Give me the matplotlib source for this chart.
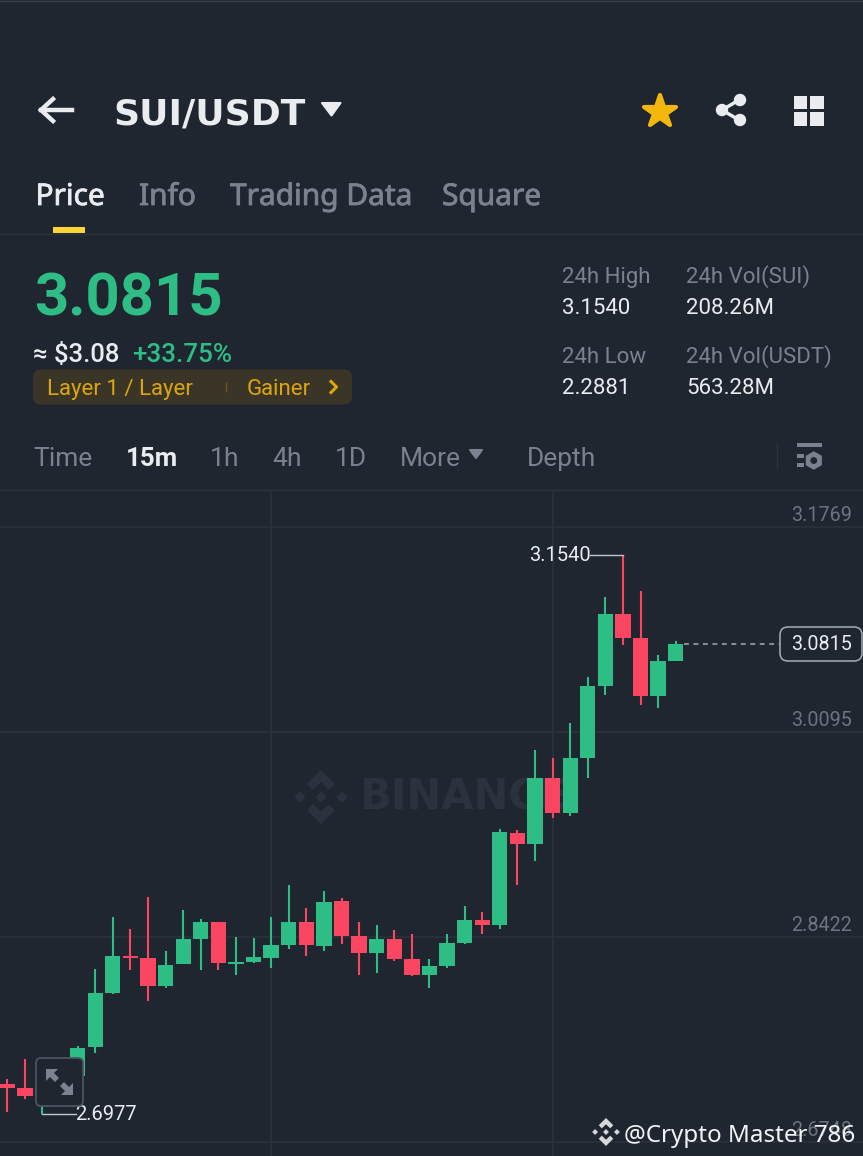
import matplotlib
matplotlib.use("Agg")
import matplotlib.pyplot as plt
import matplotlib.patheffects as pe
from matplotlib.markers import MarkerStyle
from matplotlib.patches import FancyBboxPatch, Polygon, Circle, Rectangle, RegularPolygon

opens = [2.7220, 2.7187, 2.7124, 2.7173, 2.7290, 2.7522, 2.7967, 2.8264, 2.8248, 2.8024,
         2.8204, 2.8403, 2.8547, 2.8202, 2.8220, 2.8251, 2.8359, 2.8547, 2.8351, 2.8713,
         2.8428, 2.8289, 2.8406, 2.8245, 2.8112, 2.8185, 2.8376, 2.8563, 2.8522, 2.9271,
         2.9184, 2.9718, 2.9437, 2.9886, 3.0473, 3.1061, 3.0863, 3.0389, 3.0675]
closes = [2.7187, 2.7124, 2.7173, 2.7290, 2.7518, 2.7967, 2.8264, 2.8248, 2.8024, 2.8193,
          2.8403, 2.8547, 2.8207, 2.8218, 2.8256, 2.8357, 2.8547, 2.8354, 2.8705, 2.8428,
          2.8289, 2.8403, 2.8245, 2.8112, 2.8183, 2.8371, 2.8561, 2.8522, 2.9277, 2.9184,
          2.9718, 2.9437, 2.9886, 3.0473, 3.1061, 3.0863, 3.0389, 3.0675, 3.0815]
highs = [2.7260, 2.7424, 2.7214, 2.7340, 2.7535, 2.8158, 2.8583, 2.8485, 2.8751, 2.8305,
         2.8640, 2.8571, 2.8547, 2.8420, 2.8414, 2.8588, 2.8844, 2.8656, 2.8798, 2.8738,
         2.8542, 2.8520, 2.8482, 2.8449, 2.8242, 2.8449, 2.8678, 2.8624, 2.9301, 2.9296,
         2.9946, 2.9881, 3.0171, 3.0545, 3.1195, 3.1540, 3.1244, 3.0724, 3.0836]
lows = [2.6996, 2.7102, 2.6977, 2.7150, 2.7290, 2.7478, 2.7954, 2.8153, 2.7902, 2.8008,
        2.8204, 2.8150, 2.8150, 2.8114, 2.8212, 2.8169, 2.8327, 2.8264, 2.8310, 2.8367,
        2.8112, 2.8126, 2.8229, 2.8101, 2.8003, 2.8169, 2.8365, 2.8447, 2.8485, 2.8847,
        2.9045, 2.9393, 2.9410, 2.9720, 3.0400, 3.0806, 3.0318, 3.0291, 3.0675]

price_ticks = [3.1769, 3.0095, 2.8422, 2.6748]
price_labels = ["3.1769", "3.0095", "2.8422", "2.6748"]
time_grid = [15, 31]
last_price = 3.0815
high_price = 3.1540
low_price = 2.6977

tabs = ["Price", "Info", "Trading Data", "Square"]
intervals = ["Time", "15m", "1h", "4h", "1D", "More", "Depth"]

BG = "#1f2630"
GRID = "#2b323d"
GREEN = "#2ebd85"
RED = "#fb4661"
WHITE = "#eaecef"
GREY = "#7a8290"
WM = "#2b323d"

plt.rcParams["font.family"] = ["Roboto", "DejaVu Sans"]

W, H = 863, 1156
fig = plt.figure(figsize=(W / 100, H / 100), dpi=100, facecolor=BG)

# chart part, y 490..1156 of the picture
ax = fig.add_axes([0, 0, 1, (H - 490) / H], facecolor=BG, zorder=1)
pitch = 17.59
px_per_unit = 1225
ax.set_xlim(-7.3 / pitch, (W - 7.3) / pitch)
ax.set_ylim(3.1769 - (1156 - 527) / px_per_unit, 3.1769 + (527 - 490) / px_per_unit)
for s in ax.spines.values():
    s.set_visible(False)
ax.set_xticks(time_grid)
ax.set_yticks(price_ticks)
ax.tick_params(length=0, labelbottom=False, labelleft=False)
ax.grid(True, color=GRID, lw=1.1, zorder=0)
ax.set_axisbelow(True)

# everything else in picture pixels
ui = fig.add_axes([0, 0, 1, 1], zorder=2)
ui.set_xlim(0, W)
ui.set_ylim(H, 0)
ui.axis("off")
ui.patch.set_alpha(0)


def text(x, y, s, size, color=WHITE, weight="normal", ha="left", va="baseline", family=None):
    kw = {"family": family} if family else {}
    return ui.text(x, y, s, fontsize=size, color=color, fontweight=weight, ha=ha, va=va, **kw)


def logo(target, cx, cy, r, color, zorder=1):
    chevron = [(0, -1), (.52, -.48), (.3, -.26), (0, -.55), (-.3, -.26), (-.52, -.48)]
    small = [(0, -.21), (.21, 0), (0, .21), (-.21, 0)]
    shapes = []
    for sign in (1, -1):
        shapes.append([(cx + a * r, cy + sign * b * r) for a, b in chevron])
        shapes.append([(cx + sign * .78 * r + a * r, cy + b * r) for a, b in small])
    shapes.append([(cx + a * r, cy + b * r) for a, b in small])
    for pts in shapes:
        target.add_patch(Polygon(pts, fc=color, ec="none", zorder=zorder, transform=ui.transData))


# BINANCE watermark stays under the candles
logo(ax, 321, 797, 27, WM, zorder=1)
ax.text(359, 797, "BINANCE", transform=ui.transData, fontsize=30, fontweight="bold", color=WM,
        family="DejaVu Sans", ha="left", va="center", zorder=1)

for i in range(len(opens)):
    c = GREEN if closes[i] >= opens[i] else RED
    ax.vlines(i, lows[i], highs[i], color=c, lw=1.5, zorder=3)
    ax.bar(i, abs(closes[i] - opens[i]), bottom=min(opens[i], closes[i]), width=0.87,
           color=c, linewidth=0, zorder=3)

tr = ax.get_yaxis_transform()
for p, lab in zip(price_ticks, price_labels):
    ax.text(0.9875, p + 11.5 / px_per_unit, lab, transform=tr, ha="right", va="center",
            fontsize=14.2, color="#6d7481", zorder=2)

# high / low markers
ax.plot([35, 35 - 1.85], [high_price, high_price], color="#c4c7cc", lw=1, zorder=4)
ax.text(35 - 1.85, high_price, "3.1540", ha="right", va="center", fontsize=14.5, color=WHITE, zorder=4)
ax.plot([2, 2 + 1.9], [low_price, low_price], color="#c4c7cc", lw=1, zorder=4)
ax.text(2 + 1.85, low_price, "2.6977", ha="left", va="center", fontsize=14.5, color=WHITE, zorder=4)
ax.plot([38.45, 43.9], [last_price, last_price], color="#a9adb3", lw=1.1, ls=(0, (3.2, 3)), zorder=4)

# page lines
ui.plot([0, W], [0.5, 0.5], color="#3a414c", lw=1)
ui.plot([0, W], [234, 234], color=GRID, lw=1)
ui.plot([0, W], [490, 490], color=GRID, lw=1)

# header
ui.plot([41, 72], [110, 110], color=WHITE, lw=3.2)
ui.plot([53, 41, 53], [99, 110, 121], color=WHITE, lw=3.2, solid_joinstyle="miter")
text(113, 125, "SUI/USDT", 26, weight="bold", family="DejaVu Sans")
ui.add_patch(Polygon([(322, 103), (340.5, 103), (331.5, 115.5)], fc=WHITE, ec=WHITE, lw=1.5, joinstyle="round"))
ui.plot([660], [111.5], marker=MarkerStyle("*", joinstyle="round"), ms=24, color="#f3b70b", mec="#f3b70b", mew=3)
for b in [(739, 100), (739, 120)]:
    ui.plot([722, b[0]], [110, b[1]], color=WHITE, lw=2.5)
for c in [(722, 110), (740, 100), (740, 120)]:
    ui.add_patch(Circle(c, 6.2, fc=WHITE, ec="none"))
for x0 in (793.5, 810):
    for y0 in (95.5, 112):
        ui.add_patch(Rectangle((x0, y0), 13.5, 13.5, fc=WHITE, ec="none"))

# tabs, Noto Sans only has the regular weight here so thicken it a bit
for lab, x, c in zip(tabs, [35.5, 139, 230, 442], [WHITE, GREY, GREY, GREY]):
    t = text(x, 205, lab, 21.5, c, family="Noto Sans")
    t.set_path_effects([pe.withStroke(linewidth=0.6, foreground=c)])
ui.add_patch(Rectangle((53, 227), 32, 6, fc="#fcd535", ec="none"))

# price block
text(34, 315, "3.0815", 43, GREEN, "bold")
text(33, 362, "≈ $3.08", 18.5, WHITE, "medium")
text(132, 362, "+33.75%", 18.7, GREEN, "medium")
ui.add_patch(FancyBboxPatch((33, 369.5), 319, 35, boxstyle="round,pad=0,rounding_size=8",
                            fc="#3b3528", ec="none"))
text(47, 395, "Layer 1 / Layer", 16, "#dba50f")
ui.plot([225.5, 225.5], [383, 391], color="#6b5a20", lw=1)
text(247, 395, "Gainer", 16, "#dba50f")
ui.plot([331, 336.5, 331], [381.5, 387, 392.5], color="#dba50f", lw=2.2)

text(562, 283, "24h High", 16, GREY)
text(562, 314, "3.1540", 16, WHITE)
text(686, 283, "24h Vol(SUI)", 16, GREY)
text(686, 314, "208.26M", 16, WHITE)
text(562, 363, "24h Low", 16, GREY)
text(562, 394, "2.2881", 16, WHITE)
text(686, 363, "24h Vol(USDT)", 16, GREY)
text(686, 394, "563.28M", 16, WHITE)

# interval row
for lab, x in zip(intervals, [33, 126, 210, 272, 335, 400, 527]):
    if lab == "15m":
        text(x, 466, lab, 18.7, WHITE, "bold")
    else:
        text(x, 466, lab, 19, GREY)
ui.add_patch(Polygon([(470, 450), (482, 450), (476, 458)], fc=GREY, ec=GREY, lw=1.5, joinstyle="round"))
ui.plot([777, 777], [443, 469], color=GRID, lw=1)
ui.add_patch(Rectangle((797, 443), 25, 3.5, fc=GREY, ec="none"))
ui.add_patch(Rectangle((797, 454), 7, 3.5, fc=GREY, ec="none"))
ui.add_patch(Rectangle((797, 463), 7, 3.5, fc=GREY, ec="none"))
ui.add_patch(RegularPolygon((813.8, 460.5), 6, radius=9.3, fc=GREY, ec="none"))
ui.add_patch(Circle((813.8, 460.5), 3.4, fc=BG, ec="none"))

# expand button
ui.add_patch(FancyBboxPatch((36, 1058), 47, 48, boxstyle="round,pad=0,rounding_size=5",
                            fc=BG, ec="#4d5460", lw=1.3, zorder=5))
ui.add_patch(Polygon([(46, 1069), (58, 1069), (54, 1073), (59, 1078), (55, 1082), (50, 1077), (46, 1081)],
                     fc="#7c828e", ec="none", zorder=6))
ui.add_patch(Polygon([(73, 1095), (61, 1095), (65, 1091), (60, 1086), (64, 1082), (69, 1087), (73, 1083)],
                     fc="#7c828e", ec="none", zorder=6))

# last price box
ui.add_patch(FancyBboxPatch((780, 627), 82, 34, boxstyle="round,pad=0,rounding_size=8",
                            fc=BG, ec="#a9adb3", lw=1.1, zorder=5))
text(822, 645, "3.0815", 14.2, WHITE, ha="center", va="center").set_zorder(6)

# author mark
logo(ui, 606, 1132, 14, "#d5d7da", zorder=7)
text(624, 1142, "@Crypto Master 786", 17.4, "#f2f3f5", family="Noto Sans").set_zorder(7)

fig.savefig("out.png", dpi=100, facecolor=BG)
